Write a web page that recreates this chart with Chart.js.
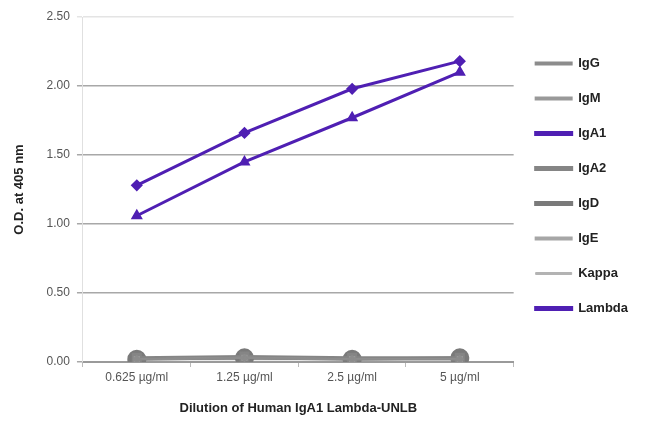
<!DOCTYPE html>
<html lang="en">
<head>
    <meta charset="UTF-8">
    <title>Chart</title>
    <style>
        body { margin: 0; background: #fff; }
        .wrap-chart { width: 650px; height: 439px; }
    </style>
</head>
<body>
    <div class="wrap-chart">
        <canvas id="myChart"></canvas>
    </div>

    <script src="https://cdn.jsdelivr.net/npm/chart.js"></script>
    <script>
        const labels = ['0.625 µg/ml', '1.25 µg/ml', '2.5 µg/ml', '5 µg/ml'];
        const yTicks = [0, 0.5, 1, 1.5, 2, 2.5];

        const igG = [0.02, 0.03, 0.02, 0.02];
        const igM = [0.02, 0.03, 0.02, 0.02];
        const igA1 = [1.28, 1.66, 1.98, 2.18];
        const igA2 = [0.03, 0.04, 0.03, 0.03];
        const igD = [0.02, 0.03, 0.02, 0.03];
        const igE = [0.02, 0.02, 0.02, 0.02];
        const kappa = [0.02, 0.03, 0.02, 0.02];
        const lambda = [1.06, 1.45, 1.77, 2.10];

        const purple = '#4f1fb3';

        const ctx = document.getElementById('myChart');

        function series(label, values, color, style, radius, width) {
            return {
                label: label,
                data: values,
                borderColor: color,
                backgroundColor: color,
                pointStyle: style,
                pointRadius: radius,
                pointHoverRadius: radius,
                borderWidth: width,
                tension: 0
            };
        }

        new Chart(ctx, {
            type: 'line',
            data: {
                labels: labels,
                datasets: [
                    series('IgG', igG, '#8c8c8c', 'rectRot', 3, 2),
                    series('IgM', igM, '#999999', 'rect', 3, 2),
                    series('IgA1', igA1, purple, 'rectRot', 4, 3),
                    series('IgA2', igA2, '#858585', 'rect', 5, 3),
                    series('IgD', igD, '#7a7a7a', 'circle', 8, 3),
                    series('IgE', igE, '#a6a6a6', 'circle', 4, 2),
                    series('Kappa', kappa, '#b3b3b3', 'line', 3, 1),
                    series('Lambda', lambda, purple, 'triangle', 4, 3)
                ]
            },
            options: {
                responsive: true,
                maintainAspectRatio: false,
                animation: false,
                layout: { padding: { top: 17, right: 12, bottom: 19, left: 12 } },
                plugins: {
                    legend: {
                        position: 'right',
                        align: 'start',
                        title: {
                            display: true,
                            text: '',
                            padding: { top: 6, bottom: 0 },
                            font: { size: 10 }
                        },
                        labels: {
                            boxWidth: 36,
                            boxHeight: 2,
                            padding: 22,
                            color: '#222',
                            font: { family: 'Liberation Sans', size: 13, weight: 'bold' }
                        }
                    },
                    tooltip: { enabled: false }
                },
                scales: {
                    x: {
                        offset: true,
                        grid: {
                            offset: true,
                            drawOnChartArea: false,
                            drawTicks: true,
                            tickLength: 5,
                            color: '#bbbbbb'
                        },
                        border: { color: '#9a9a9a', width: 2 },
                        ticks: {
                            color: '#555',
                            padding: 3,
                            font: { family: 'Liberation Sans', size: 12 }
                        },
                        title: {
                            display: true,
                            text: 'Dilution of Human IgA1 Lambda-UNLB',
                            color: '#222',
                            padding: { top: 13 },
                            font: { family: 'Liberation Sans', size: 13, weight: 'bold' }
                        }
                    },
                    y: {
                        min: 0,
                        max: 2.5,
                        afterBuildTicks: (axis) => {
                            axis.ticks = yTicks.map(v => ({ value: v }));
                        },
                        grid: {
                            color: (c) => c.tick && c.tick.value === 2.5 ? '#e4e4e4' : '#a8a8a8',
                            lineWidth: 1.5,
                            drawTicks: true,
                            tickLength: 6
                        },
                        border: { color: '#e0e0e0', width: 1 },
                        ticks: {
                            color: '#555',
                            padding: 7,
                            font: { family: 'Liberation Sans', size: 12 },
                            callback: (v) => Number(v).toFixed(2)
                        },
                        title: {
                            display: true,
                            text: 'O.D. at 405 nm',
                            color: '#222',
                            padding: { top: 0, bottom: 12 },
                            font: { family: 'Liberation Sans', size: 13, weight: 'bold' }
                        }
                    }
                }
            }
        });
    </script>
</body>
</html>
